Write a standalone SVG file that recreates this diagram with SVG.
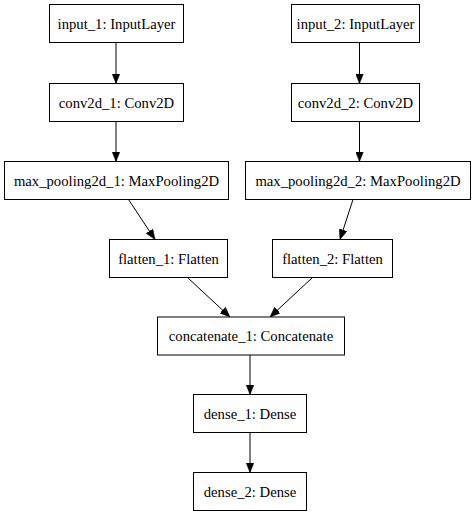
<svg xmlns="http://www.w3.org/2000/svg" width="474" height="516" viewBox="0 0 474 516">
<style>
.box{fill:#fff;stroke:#000;stroke-width:1}
.lbl{font-family:"Liberation Serif","Times New Roman",serif;font-size:14.7px;fill:#000;text-anchor:middle}
.edge{stroke:#000;stroke-width:1;fill:none;marker-end:url(#arr)}
</style>
<defs>
<marker id="arr" markerUnits="userSpaceOnUse" markerWidth="10" markerHeight="8" refX="10" refY="4" orient="auto">
<path d="M0,0 L10,4 L0,8 z" fill="#000" stroke="#000" stroke-width="0.5"/>
</marker>
</defs>
<rect width="474" height="516" fill="#fff"/>
<g id="connectors">
<line class="edge" x1="116" y1="42.5" x2="116" y2="83.5"/>
<line class="edge" x1="116" y1="121.5" x2="116" y2="161.5"/>
<line class="edge" x1="359.5" y1="42.5" x2="359.5" y2="83.5"/>
<line class="edge" x1="359.5" y1="121.5" x2="359.5" y2="161.5"/>
<line class="edge" x1="128.5" y1="199.5" x2="155" y2="239.5"/>
<line class="edge" x1="353" y1="199.5" x2="340" y2="239.5"/>
<line class="edge" x1="187.5" y1="277.5" x2="230" y2="317"/>
<line class="edge" x1="312.5" y1="277.5" x2="270" y2="317"/>
<line class="edge" x1="250" y1="355" x2="250" y2="394.5"/>
<line class="edge" x1="250" y1="432.5" x2="250" y2="472.5"/>
</g>
<g id="input_1"><rect class="box" x="49.5" y="4.5" width="134" height="38"/><text class="lbl" x="116.5" y="28.5">input_1: InputLayer</text></g>
<g id="conv2d_1"><rect class="box" x="49.5" y="83.5" width="134" height="38"/><text class="lbl" x="116.5" y="107.5">conv2d_1: Conv2D</text></g>
<g id="max_pooling2d_1"><rect class="box" x="4.5" y="161.5" width="224" height="38"/><text class="lbl" x="116.5" y="185.5">max_pooling2d_1: MaxPooling2D</text></g>
<g id="input_2"><rect class="box" x="291.5" y="4.5" width="128" height="38"/><text class="lbl" x="355.5" y="28.5">input_2: InputLayer</text></g>
<g id="conv2d_2"><rect class="box" x="291.5" y="83.5" width="128" height="38"/><text class="lbl" x="355.5" y="107.5">conv2d_2: Conv2D</text></g>
<g id="max_pooling2d_2"><rect class="box" x="245.5" y="161.5" width="225" height="38"/><text class="lbl" x="358" y="185.5">max_pooling2d_2: MaxPooling2D</text></g>
<g id="flatten_1"><rect class="box" x="109.5" y="239.5" width="118" height="38"/><text class="lbl" x="168.5" y="263.5">flatten_1: Flatten</text></g>
<g id="flatten_2"><rect class="box" x="272.5" y="239.5" width="120" height="38"/><text class="lbl" x="332.5" y="263.5">flatten_2: Flatten</text></g>
<g id="concatenate_1"><rect class="box" x="157.5" y="317" width="187" height="38"/><text class="lbl" x="251" y="341">concatenate_1: Concatenate</text></g>
<g id="dense_1"><rect class="box" x="193.5" y="394.5" width="113" height="38"/><text class="lbl" x="250" y="418.5">dense_1: Dense</text></g>
<g id="dense_2"><rect class="box" x="193.5" y="472.5" width="113" height="38"/><text class="lbl" x="250" y="496.5">dense_2: Dense</text></g>
</svg>
